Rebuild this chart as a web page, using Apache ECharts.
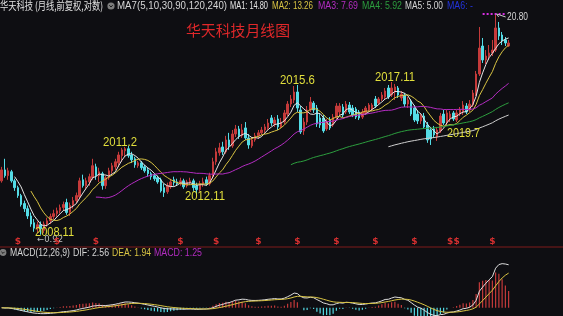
<!DOCTYPE html>
<html><head><meta charset="utf-8">
<script src="https://cdn.jsdelivr.net/npm/echarts@6/dist/echarts.min.js"></script>
<style>html,body{margin:0;padding:0;background:#0e0e12;}#c{width:563px;height:316px;}</style>
</head><body><div id="c"></div>
<script>
// ---- monthly candles (forward-adjusted), first month 2007.11 ----
const startYear = 2007, startMonth = 11;
const opens = [
1.97,2.30,2.12,2.24,1.97,1.79,1.60,1.43,1.33,1.20,
1.09,1.01,1.06,0.98,1.07,1.12,1.19,1.24,1.29,1.35,
1.45,1.26,1.39,1.49,1.57,2.00,1.84,1.94,2.06,2.40,
2.12,2.18,1.84,2.06,2.27,2.40,2.54,2.81,3.01,3.10,
2.84,2.69,2.44,2.54,2.40,2.30,2.18,2.12,2.06,2.00,
1.79,1.69,1.81,2.00,1.94,1.89,1.97,1.84,1.92,1.97,
1.84,1.74,1.89,2.00,1.89,2.09,2.58,2.93,3.18,2.97,
3.51,3.23,3.82,4.10,3.72,4.16,3.61,3.23,3.51,3.72,
3.88,4.04,4.16,4.79,4.40,4.72,4.22,4.52,5.06,5.83,
6.17,6.91,5.36,3.99,4.52,5.36,5.91,5.51,4.79,4.79,
4.10,4.65,4.34,4.85,5.21,5.59,5.21,5.75,5.51,5.43,
5.21,4.85,5.14,5.36,5.43,6.26,5.91,6.26,6.44,7.31,
6.62,6.91,7.31,6.35,6.62,5.83,6.08,5.51,5.06,4.59,
4.92,4.34,4.04,4.10,3.66,3.99,5.06,4.46,4.79,5.14,
4.65,5.06,5.21,5.67,5.36,5.75,6.72,8.91,13.23,10.86,
11.49,11.99,12.50,17.07,15.46,14.41,13.23];
const closes = [
2.30,2.12,2.27,1.97,1.79,1.60,1.41,1.33,1.20,1.07,
1.01,1.06,1.00,1.07,1.12,1.19,1.24,1.29,1.35,1.41,
1.26,1.39,1.49,1.60,1.97,1.84,1.97,2.09,2.44,2.12,
2.24,1.84,2.06,2.27,2.44,2.58,2.84,3.05,3.10,2.81,
2.65,2.47,2.54,2.37,2.27,2.18,2.09,2.03,1.94,1.71,
1.67,1.84,1.94,1.92,1.89,1.97,1.81,1.94,1.97,1.79,
1.74,1.89,1.94,1.89,2.12,2.58,2.97,3.14,2.97,3.51,
3.23,3.82,4.10,3.72,4.04,3.61,3.27,3.51,3.72,3.88,
4.04,4.22,4.46,4.46,4.65,4.22,4.52,5.14,5.83,6.26,
6.91,5.51,3.93,4.52,5.36,6.00,5.36,4.40,4.34,3.99,
4.52,4.16,4.85,5.67,5.67,4.99,5.83,5.21,4.99,4.85,
4.79,5.21,5.51,5.75,5.75,5.67,6.26,6.62,7.01,6.44,
7.31,7.42,6.62,6.72,5.83,6.17,5.06,4.65,4.59,4.92,
4.22,3.51,3.56,3.77,4.04,4.92,4.46,5.14,5.06,4.72,
5.14,5.36,5.75,5.21,5.83,6.81,8.91,12.86,10.86,11.49,
11.99,12.50,17.07,15.24,14.20,13.81,13.81];
const lows = [
1.92,2.06,2.00,1.92,1.71,1.55,1.37,1.27,1.15,1.03,
0.96,0.94,0.92,0.94,1.03,1.07,1.14,1.19,1.24,1.29,
1.22,1.20,1.33,1.43,1.53,1.79,1.74,1.84,2.00,2.00,
1.94,1.74,1.76,2.00,2.18,2.30,2.40,2.58,2.77,2.73,
2.54,2.37,2.37,2.30,2.21,2.09,2.00,1.97,1.89,1.67,
1.57,1.64,1.76,1.84,1.84,1.84,1.76,1.79,1.86,1.71,
1.62,1.69,1.81,1.84,1.84,2.03,2.47,2.81,2.84,2.89,
3.05,3.14,3.66,3.56,3.61,3.51,3.10,3.14,3.42,3.56,
3.77,3.88,4.04,4.28,4.22,4.04,4.16,4.40,4.92,5.59,
5.91,5.21,3.82,3.77,4.34,5.21,5.14,4.22,4.16,3.88,
3.99,4.04,4.22,4.72,4.99,4.85,5.06,5.06,4.85,4.72,
4.65,4.72,4.99,5.21,5.28,5.51,5.75,6.08,6.26,6.26,
6.44,6.17,6.35,6.08,5.59,5.51,4.92,4.52,4.40,4.40,
4.10,3.37,3.27,3.61,3.46,3.88,4.34,4.28,4.52,4.59,
4.52,4.92,4.99,5.06,5.21,5.59,6.53,8.66,10.41,10.26,
10.86,11.49,12.16,14.41,13.42,13.23,13.05];
const highs = [
2.40,2.69,2.37,2.30,2.03,1.84,1.64,1.49,1.39,1.26,
1.15,1.11,1.11,1.11,1.17,1.24,1.31,1.35,1.41,1.47,
1.53,1.45,1.57,1.67,2.06,2.15,2.06,2.18,2.69,2.51,
2.37,2.24,2.12,2.37,2.54,2.69,2.97,3.14,3.18,3.23,
2.97,2.77,2.61,2.61,2.47,2.37,2.24,2.18,2.12,2.06,
1.89,1.92,2.03,2.09,2.03,2.06,2.03,2.00,2.06,2.03,
1.92,1.97,2.06,2.09,2.21,2.73,3.14,3.37,3.42,3.72,
3.88,4.04,4.34,4.28,4.40,4.52,3.82,3.66,3.88,4.04,
4.22,4.40,4.72,4.99,4.85,4.99,4.79,5.36,6.08,6.62,
7.52,7.63,5.67,4.79,5.67,6.44,6.08,5.75,5.06,4.99,
4.72,4.85,5.06,5.91,5.91,5.83,6.08,6.00,5.75,5.59,
5.36,5.43,5.67,5.91,5.91,6.53,6.44,6.91,7.31,7.63,
7.96,7.74,7.52,7.01,6.81,6.44,6.26,5.75,5.36,5.06,
5.14,4.52,4.22,4.28,4.22,5.14,5.36,5.36,5.28,5.28,
5.36,5.59,6.08,5.91,6.17,7.11,9.30,17.31,14.82,12.50,
13.42,14.41,20.80,18.58,16.13,15.03,14.41];

const maPeriods = [5, 10, 30, 90, 120];
const maColors = ['#e6e6e6', '#d9c443', '#b42cc2', '#2c9e3e', '#cfcfcf'];
const dividendIdx = [5, 17, 29, 55, 66, 79, 91, 103, 115, 127, 138, 140, 151];
const annoLabels = ['2008.11', '2011.2', '2012.11', '2015.6', '2017.11', '2019.7'];
const annoIdx    = [12, 39, 60, 91, 120, 140];
const annoAnchor = ['low', 'high', 'low', 'high', 'high', 'low'];
const legendTexts = ['华天科技 (月线,前复权,对数)', 'MA7(5,10,30,90,120,240)', 'MA1: 14.80', 'MA2: 13.26', 'MA3: 7.69', 'MA4: 5.92', 'MA5: 5.00', 'MA6: -'];
const macdTexts = ['MACD(12,26,9)', 'DIF: 2.56', 'DEA: 1.94', 'MACD: 1.25'];

// ---- derived ----
const N = closes.length;
const months = [];
for (let i = 0; i < N; i++) {
  const m = startMonth - 1 + i;
  months.push((startYear + Math.floor(m / 12)) + '.' + (m % 12 + 1));
}
const candles = closes.map((c, i) => [opens[i], c, lows[i], highs[i]]);
function sma(p) {
  return closes.map((_, i) => {
    if (i < p - 1) return null;
    let s = 0; for (let k = i - p + 1; k <= i; k++) s += closes[k];
    return +(s / p).toFixed(4);
  });
}
const dif = [], dea = [], macd = [];
let e12 = closes[0], e26 = closes[0], d9 = 0;
closes.forEach((c, i) => {
  if (i > 0) { e12 = (2 * c + 11 * e12) / 13; e26 = (2 * c + 25 * e26) / 27; }
  const df = e12 - e26;
  d9 = i === 0 ? 0 : (2 * df + 8 * d9) / 10;
  dif.push(+df.toFixed(4)); dea.push(+d9.toFixed(4)); macd.push(+(2 * (df - d9)).toFixed(4));
});

const RED = '#c43a3a', CYAN = '#54dce6';
const chart = echarts.init(document.getElementById('c'), null, {renderer: 'canvas'});
const gridL = 0, gridR = 52.75;
const option = {
  backgroundColor: '#0e0e12',
  animation: false,
  grid: [
    {left: gridL, right: gridR, top: 10, height: 237},
    {left: gridL, right: gridR, top: 250, height: 66}
  ],
  xAxis: [0, 1].map(g => ({type: 'category', gridIndex: g, data: months, boundaryGap: true,
    axisLine: {show: false}, axisTick: {show: false}, axisLabel: {show: false}, splitLine: {show: false}})),
  yAxis: [
    {type: 'log', logBase: 10, gridIndex: 0, min: 0.774, max: 22.0, show: false, splitLine: {show: false}},
    {type: 'value', gridIndex: 1, min: -0.47, max: 3.3, show: false, splitLine: {show: false}}
  ],
  series: [
    {type: 'candlestick', xAxisIndex: 0, yAxisIndex: 0, data: candles, barWidth: 2.2,
      itemStyle: {color: RED, color0: CYAN, borderColor: RED, borderColor0: CYAN, borderWidth: 1},
      markLine: {silent: true, symbol: 'none', label: {show: false},
        lineStyle: {color: '#d42ee0', type: [2, 2], width: 2},
        data: [[{coord: [148, highs[152]]}, {coord: [155, highs[152]]}]]}
    },
    ...maPeriods.map((p, k) => ({type: 'line', xAxisIndex: 0, yAxisIndex: 0, data: sma(p),
      showSymbol: false, symbol: 'none', connectNulls: false,
      lineStyle: {color: maColors[k], width: 1}, z: 3})),
    {type: 'bar', xAxisIndex: 1, yAxisIndex: 1, data: macd, barWidth: 1.2,
      itemStyle: {color: p => p.value >= 0 ? RED : CYAN}},
    {type: 'line', xAxisIndex: 1, yAxisIndex: 1, data: dif, showSymbol: false, symbol: 'none', lineStyle: {color: '#dedede', width: 1}},
    {type: 'line', xAxisIndex: 1, yAxisIndex: 1, data: dea, showSymbol: false, symbol: 'none', lineStyle: {color: '#d9c443', width: 1}}
  ]
};
chart.setOption(option);

// ---- text / decorations ----
const mctx = document.createElement('canvas').getContext('2d');
function fitText(text, left, cy, width, font, fill, extra) {
  mctx.font = font;
  const w = mctx.measureText(text).width || 1;
  return Object.assign({type: 'text', x: left, y: cy, scaleX: width / w, silent: true, z: 100,
    style: {text: text, font: font, fill: fill, align: 'left', verticalAlign: 'middle', textAlign: 'left', textVerticalAlign: 'middle'}}, extra || {});
}
const CJK = '"Noto Sans CJK SC", "Liberation Sans", sans-serif';
const LAT = '"Liberation Sans", "Noto Sans CJK SC", sans-serif';
const g = [];
g.push({type: 'rect', shape: {x: 0, y: 246.5, width: 563, height: 1}, style: {fill: '#7e1a1a'}, silent: true, z: 90});
const legX = [0, 117, 230, 272, 318, 362, 405, 447];
const legW = [103, 110, 38, 41, 40, 40, 38, 26];
const legC = ['#e2e2e2', '#d6d6d6', '#e6e6e6', '#d9c443', '#b42cc2', '#2c9e3e', '#d6d6d6', '#2233dd'];
legendTexts.forEach((t, k) => g.push(fitText(t, legX[k], 6, legW[k], '11px ' + (k === 0 ? CJK : LAT), legC[k])));
g.push({type: 'circle', shape: {cx: 111, cy: 6, r: 3.6}, style: {fill: '#7d7d7d'}, silent: true, z: 100});
g.push({type: 'polyline', shape: {points: [[109.3, 5.2], [111, 7], [112.7, 5.2]]}, style: {stroke: '#1a1a1a', lineWidth: 1, fill: null}, silent: true, z: 101});
const mX = [10, 73, 112, 154], mW = [60, 36, 39, 48];
const mC = ['#d6d6d6', '#d6d6d6', '#d9c443', '#b42cc2'];
macdTexts.forEach((t, k) => g.push(fitText(t, mX[k], 252.5, mW[k], '11px ' + LAT, mC[k])));
g.push({type: 'circle', shape: {cx: 3, cy: 252.5, r: 3.4}, style: {fill: '#7d7d7d'}, silent: true, z: 100});
g.push({type: 'polyline', shape: {points: [[1.4, 251.8], [3, 253.4], [4.6, 251.8]]}, style: {stroke: '#1a1a1a', lineWidth: 1, fill: null}, silent: true, z: 101});
g.push(fitText('华天科技月线图', 186, 30, 104, '15px ' + CJK, '#e0282a'));
const annoOff = [[-5.6, -2, 39], [-25.4, -3, 34], [-11.6, 2, 40], [-17.4, -5, 35], [-16.6, -5, 40], [-9.6, 11, 33]];
annoLabels.forEach((t, k) => {
  const i = annoIdx[k];
  const v = annoAnchor[k] === 'high' ? highs[i] : lows[i];
  const p = chart.convertToPixel({gridIndex: 0}, [i, v]);
  g.push(fitText(t, p[0] + annoOff[k][0], p[1] + annoOff[k][1], annoOff[k][2], '13px ' + LAT, '#e2df3c'));
});
{
  const p = chart.convertToPixel({gridIndex: 0}, [12, lows[12]]);
  g.push(fitText('←' + lows[12].toFixed(2), p[0] - 3.6, p[1] + 4.5, 26, '9px "DejaVu Sans", sans-serif', '#bdbdbd', {z: 99}));
}
{
  const p = chart.convertToPixel({gridIndex: 0}, [152, highs[152]]);
  g.push({type: 'line', shape: {x1: p[0] + 1, y1: p[1], x2: p[0] + 10, y2: p[1] + 3}, style: {stroke: '#c8c8c8', lineWidth: 1}, silent: true, z: 100});
  g.push({type: 'line', shape: {x1: p[0] + 1, y1: p[1], x2: p[0] + 3, y2: p[1] + 3}, style: {stroke: '#c8c8c8', lineWidth: 1}, silent: true, z: 100});
  g.push(fitText(highs[152].toFixed(2), p[0] + 11.4, p[1] + 3, 21, '10px ' + LAT, '#d4d4d4'));
}
dividendIdx.forEach(i => {
  const p = chart.convertToPixel({gridIndex: 0}, [i, 1]);
  g.push({type: 'text', x: p[0], y: 241.5, silent: true, z: 100,
    style: {text: '$', font: 'bold 9px "DejaVu Sans", sans-serif', fill: '#d83030', align: 'center', verticalAlign: 'middle', textAlign: 'center', textVerticalAlign: 'middle'}});
});
chart.setOption({graphic: g});
</script>
</body></html>
